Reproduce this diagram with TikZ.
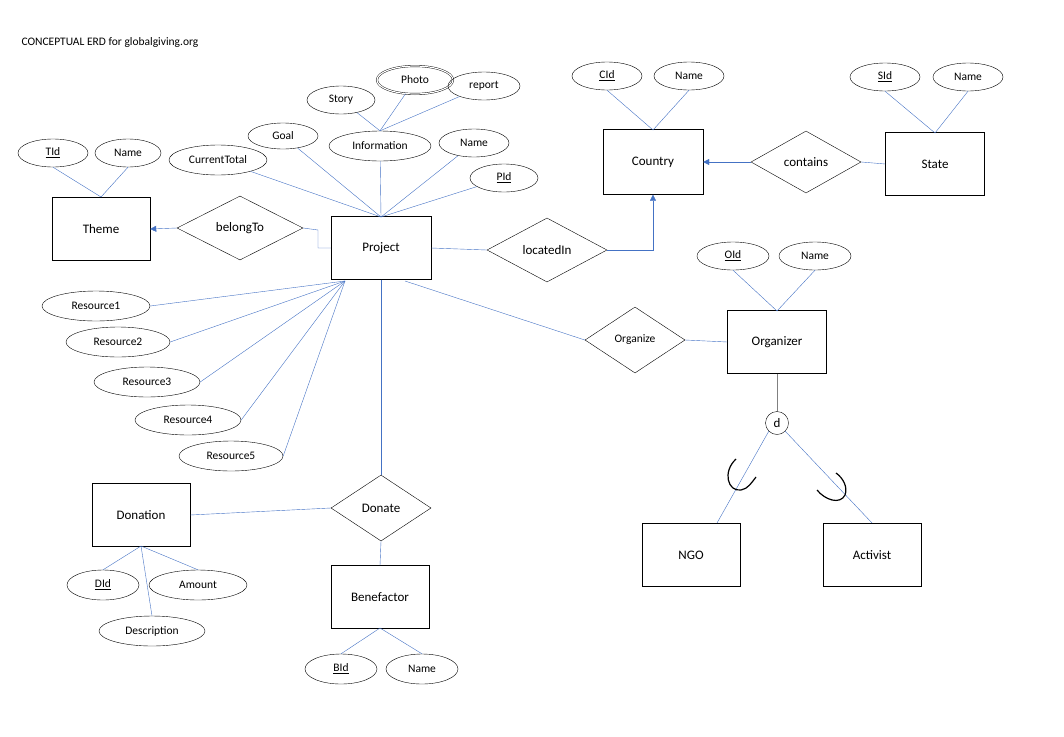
\documentclass[tikz,border=0pt]{standalone}
\usepackage{fontspec}
\setmainfont{Carlito}
\usetikzlibrary{shapes.geometric,arrows.meta}
\definecolor{ln}{HTML}{4472C4}
\begin{document}
\begin{tikzpicture}[x=1pt,y=-1pt,
 ent/.style={draw,minimum width=98pt,minimum height=63pt,inner sep=0,font=\fontsize{13}{15}\selectfont},
 att/.style={draw,ellipse,inner sep=0,font=\fontsize{11.5}{13}\selectfont},
 rel/.style={draw,diamond,aspect=1.9,inner sep=0,font=\fontsize{13}{15}\selectfont},
 c/.style={draw=ln},
 ar/.style={draw=ln,-{Triangle[length=6pt,width=6pt,fill=ln]}}]
\useasboundingbox (0,0) rectangle (1064,736);
\node[anchor=west,font=\fontsize{11.5}{13}\selectfont] (title) at (18,42) {CONCEPTUAL ERD for globalgiving.org};
% entities
\node[ent] (theme) at (101,229) {Theme};
\node[ent,minimum width=100pt] (proj) at (381,248) {Project};
\node[ent,minimum width=100pt,minimum height=65pt] (country) at (653,162) {Country};
\node[ent,minimum width=99pt] (state) at (935,164) {State};
\node[ent,minimum width=99pt] (org) at (777,342) {Organizer};
\node[ent] (ngo) at (691,555) {NGO};
\node[ent] (act) at (872,555) {Activist};
\node[ent] (don) at (141,515) {Donation};
\node[ent] (ben) at (380,597) {Benefactor};
% relationships
\node[rel,minimum width=126pt,minimum height=64pt] (bel) at (240,228) {belongTo};
\node[rel,minimum width=120pt,minimum height=64pt] (loc) at (547,250) {locatedIn};
\node[rel,minimum width=110pt,minimum height=62pt] (cont) at (806,162) {contains};
\node[rel,minimum width=100pt,minimum height=66pt,font=\fontsize{11.5}{13}\selectfont] (orgz) at (635,340) {Organize};
\node[rel,minimum width=100pt,minimum height=66pt] (dnt) at (381,508) {Donate};
\node[draw,circle,minimum size=23pt,inner sep=0,font=\fontsize{13}{15}\selectfont] (d) at (777,423) {d};
% attributes
\node[att,minimum width=70pt,minimum height=28pt] (tid) at (53,153) {\underline{TId}};
\node[att,minimum width=66pt,minimum height=28pt] (tname) at (128,153) {Name};
\node[att,minimum width=98pt,minimum height=30pt] (ct) at (218,160) {CurrentTotal};
\node[att,minimum width=70pt,minimum height=26pt] (goal) at (283,136) {Goal};
\node[att,minimum width=68pt,minimum height=28pt] (story) at (341,100) {Story};
\node[att,double,double distance=1.2pt,minimum width=76pt,minimum height=28pt] (photo) at (415,80) {Photo};
\node[att,minimum width=72pt,minimum height=28pt] (rep) at (484,86) {report};
\node[att,minimum width=102pt,minimum height=30pt] (info) at (380,146) {Information};
\node[att,minimum width=70pt,minimum height=28pt] (pname) at (474,143) {Name};
\node[att,minimum width=68pt,minimum height=28pt] (pid) at (504,178) {\underline{PId}};
\node[att,minimum width=70pt,minimum height=28pt] (cid) at (607,76) {\underline{CId}};
\node[att,minimum width=70pt,minimum height=28pt] (cname) at (689,76) {Name};
\node[att,minimum width=70pt,minimum height=28pt] (sid) at (885,77) {\underline{SId}};
\node[att,minimum width=70pt,minimum height=28pt] (sname) at (968,77) {Name};
\node[att,minimum width=72pt,minimum height=28pt] (oid) at (733,256) {\underline{OId}};
\node[att,minimum width=72pt,minimum height=28pt] (oname) at (815,256) {Name};
\node[att,minimum width=108pt,minimum height=30pt] (r1) at (96,306) {Resource1};
\node[att,minimum width=104pt,minimum height=30pt] (r2) at (118,342) {Resource2};
\node[att,minimum width=106pt,minimum height=30pt] (r3) at (147,382) {Resource3};
\node[att,minimum width=106pt,minimum height=30pt] (r4) at (188,420) {Resource4};
\node[att,minimum width=104pt,minimum height=30pt] (r5) at (231,456) {Resource5};
\node[att,minimum width=72pt,minimum height=30pt] (did) at (103,585) {\underline{DId}};
\node[att,minimum width=98pt,minimum height=30pt] (amt) at (198,585) {Amount};
\node[att,minimum width=106pt,minimum height=30pt] (desc) at (152,631) {Description};
\node[att,minimum width=72pt,minimum height=30pt] (bid) at (341,669) {\underline{BId}};
\node[att,minimum width=72pt,minimum height=30pt] (bname) at (422,669) {Name};
% coordinates
\coordinate (tt) at (101,197);
\coordinate (pt) at (381,217);
\coordinate (pb) at (345,281);
\coordinate (ct2) at (653,130);
\coordinate (st) at (935,133);
\coordinate (ot) at (777,311);
\coordinate (dob) at (141,546);
\coordinate (bb) at (380,628);
\coordinate (pbr) at (405,281);
\coordinate (ngot) at (717,523);
\coordinate (actt) at (872,523);
% connectors
\draw[c] (tt) -- (tid.south); \draw[c] (tt) -- (tname.south);
\draw[ar] (bel.west) -- (theme.east);
\draw[c] (proj.west) -- (318,248) -- (318,230) -- (bel.east);
\foreach \n in {ct,goal,info,pname,pid} \draw[c] (pt) -- (\n);
\foreach \n in {story,photo,rep} \draw[c] (info.north) -- (\n);
\draw[c] (proj.east) -- (loc.west);
\draw[ar] (loc.east) -- (653,250) -- (country.south);
\draw[ar] (cont.west) -- (country.east);
\draw[c] (state.west) -- (cont.east);
\draw[c] (ct2) -- (cid.south); \draw[c] (ct2) -- (cname.south);
\draw[c] (st) -- (sid.south); \draw[c] (st) -- (sname.south);
\draw[c] (pbr) -- (orgz.west);
\draw[c] (orgz.east) -- (org.west);
\draw[c] (ot) -- (oid.south); \draw[c] (ot) -- (oname.south);
\draw[gray] (org.south) -- (d.north);
\draw[c] (d.south west) -- (ngot);
\draw[c] (d.south east) -- (actt);
\foreach \n in {r1,r2,r3,r4,r5} \draw[c] (pb) -- (\n.east);
\draw[c] (proj.south) -- (dnt.north);
\draw[c] (dnt.west) -- (don.east);
\draw[c] (dnt.south) -- (ben.north);
\draw[c] (dob) -- (did.north); \draw[c] (dob) -- (amt.north); \draw[c] (dob) -- (desc.north);
\draw[c] (bb) -- (bid.north); \draw[c] (bb) -- (bname.north);
% subset symbols
\draw[line width=1.2pt] (736,459) .. controls (722,472) and (728,492) .. (741,490) .. controls (748,489) and (752,482) .. (756,477);
\draw[line width=1.2pt] (817,490) .. controls (825,500) and (840,505) .. (845,495) .. controls (848,487) and (843,478) .. (836,473);
\end{tikzpicture}
\end{document}
